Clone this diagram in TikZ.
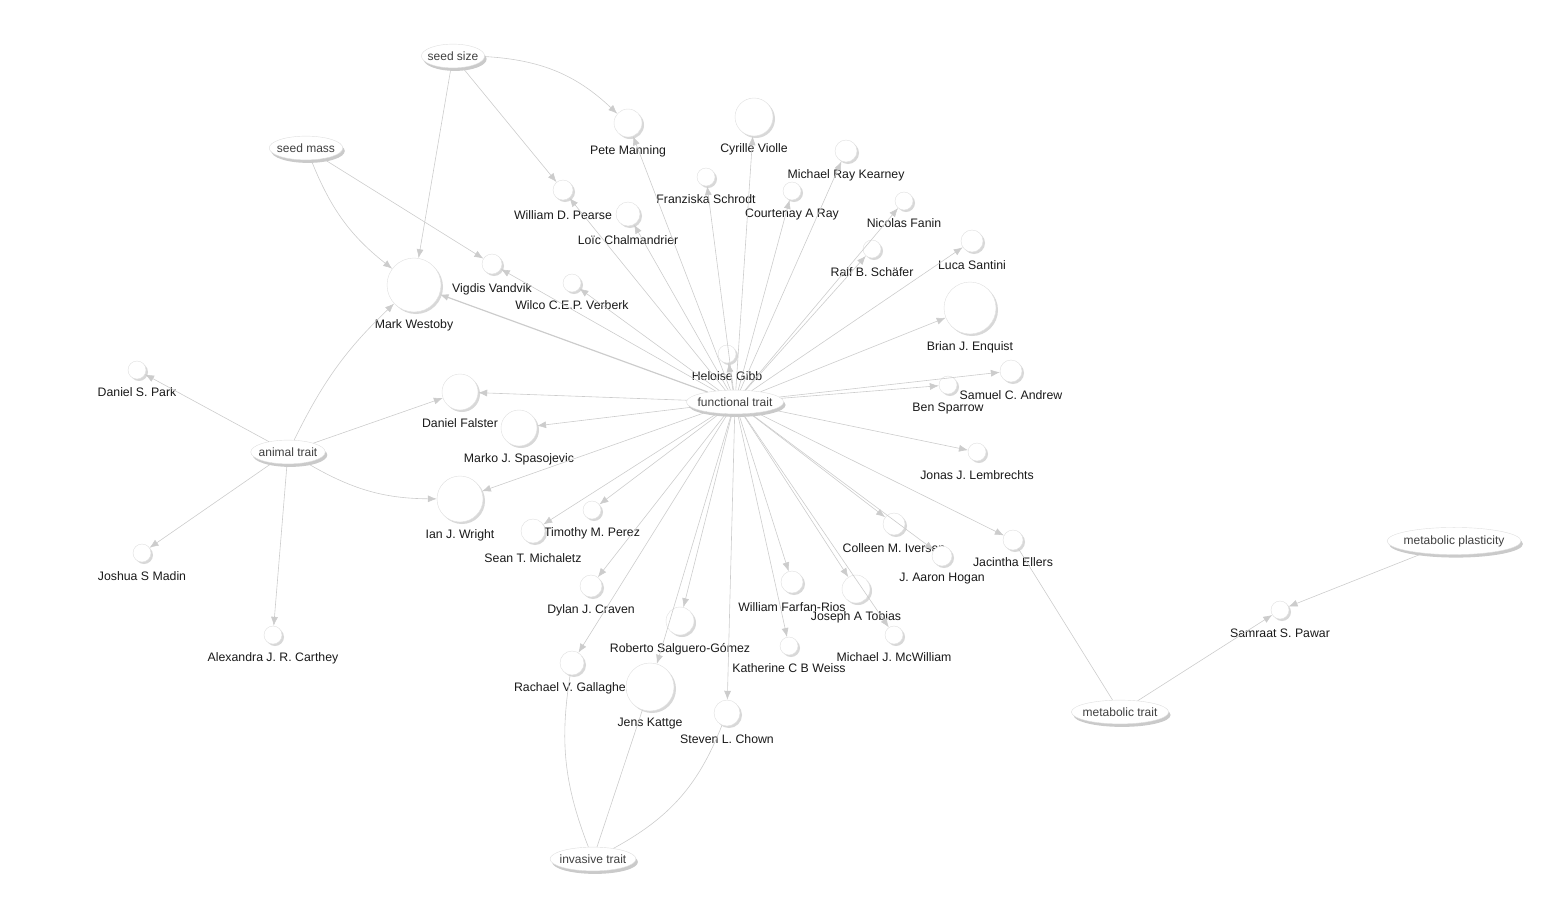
\documentclass[tikz,border=0pt]{standalone}
\usepackage{fontspec}
\setmainfont{Liberation Sans}
\usetikzlibrary{shadows,arrows.meta,shapes.geometric}
\begin{document}
\begin{tikzpicture}[x=1pt,y=-1pt,
  au/.style={circle,draw=gray!25,fill=white,line width=0.4pt,inner sep=0pt,minimum size=#1,
     drop shadow={shadow xshift=2pt,shadow yshift=-2pt,fill=gray!60,opacity=0.5}},
  tp/.style={ellipse,draw=gray!25,fill=white,inner xsep=-3pt,inner ysep=4pt,font=\fontsize{12}{14}\selectfont,text=black!75,
     drop shadow={shadow xshift=2pt,shadow yshift=-3pt,fill=gray!70,opacity=0.6}},
  lb/.style={font=\fontsize{12.3}{14}\selectfont,text=black!90},
  ed/.style={draw=gray!40,line width=0.6pt,-{Latex[length=9pt,width=7pt]}},
  el/.style={draw=gray!40,line width=0.6pt}]
\useasboundingbox (0,0) rectangle (1548,898);
% authors
\node[au=54] (mw) at (414,285) {}; \node[lb] at (414,325) {Mark Westoby};
\node[au=20] (vv) at (492,264) {}; \node[lb] at (492,289) {Vigdis Vandvik};
\node[au=18] (wv) at (572,283) {}; \node[lb] at (572,305) {Wilco C.E.P. Verberk};
\node[au=20] (wp) at (563,190) {}; \node[lb] at (563,215) {William D. Pearse};
\node[au=24] (lc) at (628,214) {}; \node[lb] at (628,240) {Loïc Chalmandrier};
\node[au=28] (pm) at (628,123) {}; \node[lb] at (628,151) {Pete Manning};
\node[au=38] (cv) at (754,117) {}; \node[lb] at (754,149) {Cyrille Violle};
\node[au=18] (fs) at (706,177) {}; \node[lb] at (706,199) {Franziska Schrodt};
\node[au=22] (mk) at (846,151) {}; \node[lb] at (846,175) {Michael Ray Kearney};
\node[au=18] (cr) at (792,191) {}; \node[lb] at (792,214) {Courtenay A Ray};
\node[au=18] (nf) at (904,201) {}; \node[lb] at (904,223) {Nicolas Fanin};
\node[au=18] (rs) at (872,249) {}; \node[lb] at (872,272) {Ralf B. Schäfer};
\node[au=22] (ls) at (972,241) {}; \node[lb] at (972,265) {Luca Santini};
\node[au=52] (be) at (970,308) {}; \node[lb] at (970,347) {Brian J. Enquist};
\node[au=18] (hg) at (727,354) {}; \node[lb] at (727,376) {Heloise Gibb};
\node[au=22] (sa) at (1011,371) {}; \node[lb] at (1011,395) {Samuel C. Andrew};
\node[au=18] (bs) at (948,385) {}; \node[lb] at (948,408) {Ben Sparrow};
\node[au=18] (jl) at (977,452) {}; \node[lb] at (977,475) {Jonas J. Lembrechts};
\node[au=18] (dp) at (137,370) {}; \node[lb] at (137,392) {Daniel S. Park};
\node[au=36] (df) at (460,392) {}; \node[lb] at (460,423) {Daniel Falster};
\node[au=36] (ms) at (519,428) {}; \node[lb] at (519,459) {Marko J. Spasojevic};
\node[au=46] (iw) at (460,499) {}; \node[lb] at (460,535) {Ian J. Wright};
\node[au=18] (tp) at (592,510) {}; \node[lb] at (592,533) {Timothy M. Perez};
\node[au=24] (sm) at (533,531) {}; \node[lb] at (533,558) {Sean T. Michaletz};
\node[au=18] (jm) at (142,553) {}; \node[lb] at (142,576) {Joshua S Madin};
\node[au=18] (ac) at (273,635) {}; \node[lb] at (273,658) {Alexandra J. R. Carthey};
\node[au=22] (dc) at (591,586) {}; \node[lb] at (591,610) {Dylan J. Craven};
\node[au=28] (rg) at (680,621) {}; \node[lb] at (680,649) {Roberto Salguero-Gómez};
\node[au=24] (rvg) at (572,663) {}; \node[lb] at (572,688) {Rachael V. Gallagher};
\node[au=48] (jk) at (650,687) {}; \node[lb] at (650,724) {Jens Kattge};
\node[au=26] (sc) at (727,713) {}; \node[lb] at (727,739) {Steven L. Chown};
\node[au=22] (wf) at (792,582) {}; \node[lb] at (792,607) {William Farfan-Rios};
\node[au=18] (kw) at (789,646) {}; \node[lb] at (789,668) {Katherine C B Weiss};
\node[au=28] (jt) at (856,589) {}; \node[lb] at (856,617) {Joseph A Tobias};
\node[au=18] (mm) at (894,635) {}; \node[lb] at (894,657) {Michael J. McWilliam};
\node[au=22] (ci) at (894,524) {}; \node[lb] at (894,548) {Colleen M. Iversen};
\node[au=20] (ah) at (942,556) {}; \node[lb] at (942,579) {J. Aaron Hogan};
\node[au=20] (je) at (1013,540) {}; \node[lb] at (1013,562) {Jacintha Ellers};
\node[au=18] (sp) at (1280,610) {}; \node[lb] at (1280,633) {Samraat S. Pawar};
% topics
\node[tp] (ss) at (453,56) {seed size};
\node[tp] (sd) at (306,148) {seed mass};
\node[tp] (ft) at (735,402) {functional trait};
\node[tp] (at) at (288,452) {animal trait};
\node[tp] (it) at (593,859) {invasive trait};
\node[tp] (mt) at (1120,712) {metabolic trait};
\node[tp] (mp) at (1454,541) {metabolic plasticity};
% edges
\draw[ed] (ss) to[bend left=20] (pm);
\draw[ed] (ss) -- (wp);
\draw[ed] (ss) -- (mw);
\draw[ed] (sd) to[bend right=15] (mw);
\draw[ed] (sd) -- (vv);
\draw[ed] (at) to[bend left=10] (mw);
\draw[ed] (at) -- (dp);
\draw[ed] (at) -- (df);
\draw[ed] (at) to[bend right=15] (iw);
\draw[ed] (at) -- (jm);
\draw[ed] (at) -- (ac);
\draw[el] (it) to[bend left=15] (rvg);
\draw[el] (it) -- (jk);
\draw[el] (it) to[bend right=20] (sc);
\draw[el] (mt) -- (je);
\draw[ed] (mt) -- (sp);
\draw[ed] (mp) -- (sp);
\draw[ed,line width=1.2pt] (ft) -- (mw);
\foreach \t in {vv,wv,wp,lc,pm,cv,fs,mk,cr,nf,rs,ls,be,hg,sa,bs,jl,df,ms,iw,tp,sm,dc,rg,rvg,jk,sc,wf,kw,jt,mm,ci,ah,je}
  \draw[ed] (ft) -- (\t);
\end{tikzpicture}
\end{document}
